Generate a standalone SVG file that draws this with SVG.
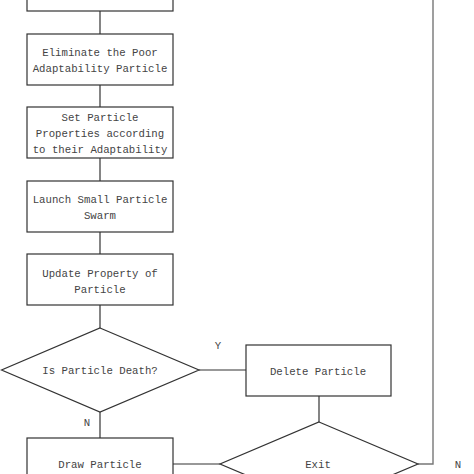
<svg xmlns="http://www.w3.org/2000/svg" width="474" height="474" viewBox="0 0 474 474">
<style>
.n{fill:#fff;stroke:#333;stroke-width:1.2}
.c{fill:none;stroke:#333;stroke-width:1.2}
.t{font-family:"Liberation Mono","DejaVu Sans Mono",monospace;font-size:10.7px;fill:#444;text-anchor:middle}
</style>
<rect width="474" height="474" fill="#fff"/>
<g id="connectors">
<line class="c" x1="100" y1="11" x2="100" y2="34"/>
<line class="c" x1="100" y1="85" x2="100" y2="107"/>
<line class="c" x1="100" y1="158" x2="100" y2="181"/>
<line class="c" x1="100" y1="232" x2="100" y2="254"/>
<line class="c" x1="100" y1="305" x2="100" y2="328"/>
<line class="c" x1="199" y1="370" x2="246" y2="370"/>
<line class="c" x1="100" y1="412" x2="100" y2="438"/>
<line class="c" x1="319" y1="396" x2="319" y2="422"/>
<line class="c" x1="173" y1="464" x2="220" y2="464"/>
<polyline class="c" points="418,464 433,464 433,0" style="stroke:#777;stroke-width:1.4"/>
<text class="t" x="218" y="349">Y</text>
<text class="t" x="87" y="426">N</text>
<text class="t" x="458" y="468">N</text>
</g>
<g id="n1"><rect class="n" x="27" y="-10" width="146" height="21"/></g>
<g id="n2"><rect class="n" x="27" y="34" width="146" height="51"/>
<text class="t" x="100" y="56">Eliminate the Poor</text>
<text class="t" x="100" y="72">Adaptability Particle</text></g>
<g id="n3"><rect class="n" x="27" y="107" width="146" height="51"/>
<text class="t" x="100" y="121">Set Particle</text>
<text class="t" x="100" y="137">Properties according</text>
<text class="t" x="100" y="153">to their Adaptability</text></g>
<g id="n4"><rect class="n" x="27" y="181" width="146" height="51"/>
<text class="t" x="100" y="203">Launch Small Particle</text>
<text class="t" x="100" y="219">Swarm</text></g>
<g id="n5"><rect class="n" x="27" y="254" width="146" height="51"/>
<text class="t" x="100" y="277">Update Property of</text>
<text class="t" x="100" y="293">Particle</text></g>
<g id="n6"><polygon class="n" points="100,328 199,370 100,412 1.5,370"/>
<text class="t" x="100" y="374">Is Particle Death?</text></g>
<g id="n7"><rect class="n" x="246" y="345" width="145" height="51"/>
<text class="t" x="318" y="375">Delete Particle</text></g>
<g id="n8"><polygon class="n" points="319,422 418,464 319,506 220,464"/>
<text class="t" x="318" y="468">Exit</text></g>
<g id="n9"><rect class="n" x="27" y="438" width="146" height="51"/>
<text class="t" x="100" y="468">Draw Particle</text></g>
</svg>
